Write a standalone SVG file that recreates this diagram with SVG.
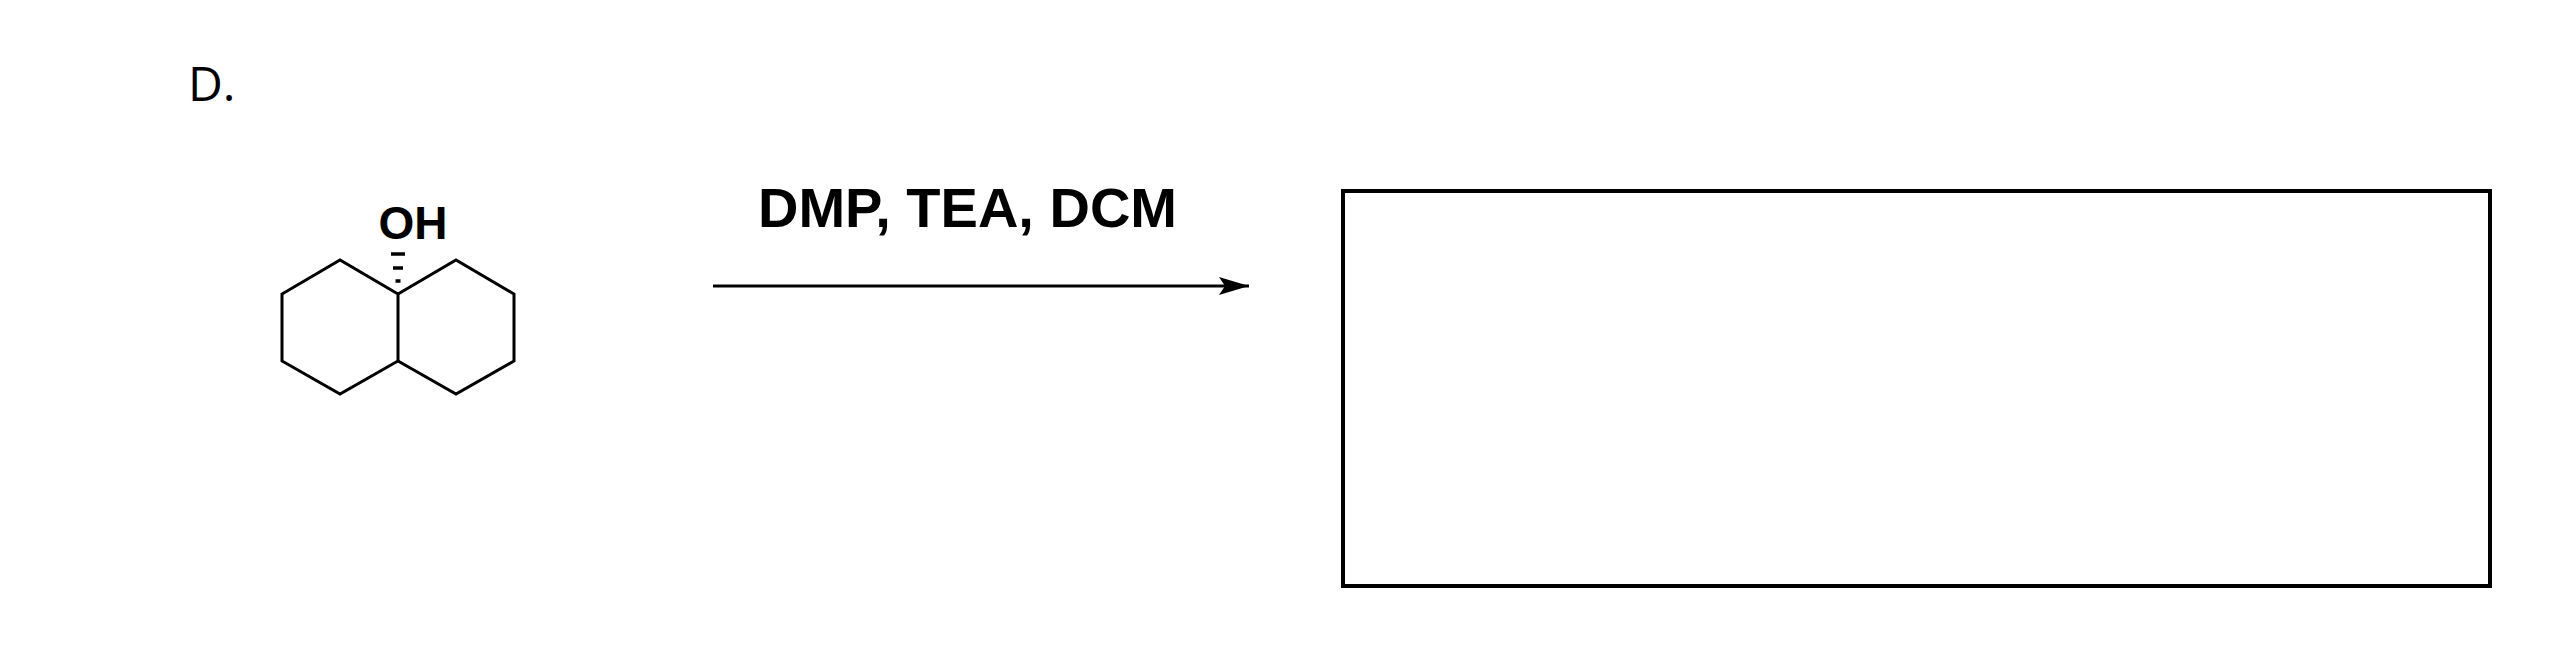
<svg xmlns="http://www.w3.org/2000/svg" width="2576" height="670" viewBox="0 0 2576 670">
<style>
.bond{fill:none;stroke:#000;stroke-width:3;stroke-linejoin:miter}
.lab{font-family:"Liberation Sans",Arial,sans-serif;font-weight:bold;fill:#000}
</style>
<defs><marker id="ah" markerUnits="userSpaceOnUse" markerWidth="32" markerHeight="18" refX="30" refY="9" orient="auto"><path d="M0,0 L30,9 L0,18 L6,9 Z" fill="#000"/></marker></defs>
<rect width="2576" height="670" fill="#fff"/>
<text x="188" y="101" font-family="'Open Sans','Noto Sans',sans-serif" font-size="48" fill="#000">D.</text>
<g id="molecule">
<path class="bond" d="M398,294 L340,260 L282,294 L282,361 L340,394 L398,361 Z"/>
<path class="bond" d="M398,294 L456,260 L514,294 L514,361 L456,394 L398,361"/>
<line x1="391" y1="254" x2="405" y2="254" stroke="#000" stroke-width="3.5"/>
<line x1="393" y1="268" x2="403" y2="268" stroke="#000" stroke-width="3.5"/>
<line x1="395.5" y1="281" x2="400.5" y2="281" stroke="#000" stroke-width="3.5"/>
<text class="lab" x="413" y="239" font-size="46" text-anchor="middle">OH</text>
</g>
<g id="connectors">
<line x1="713" y1="286" x2="1249" y2="286" stroke="#000" stroke-width="3" marker-end="url(#ah)"/>
</g>
<g id="reagents"><text class="lab" x="758" y="227" font-size="55" textLength="419" lengthAdjust="spacingAndGlyphs">DMP, TEA, DCM</text></g>
<g id="product-box"><rect x="1343" y="191" width="1147" height="395" fill="none" stroke="#000" stroke-width="4"/></g>
</svg>
